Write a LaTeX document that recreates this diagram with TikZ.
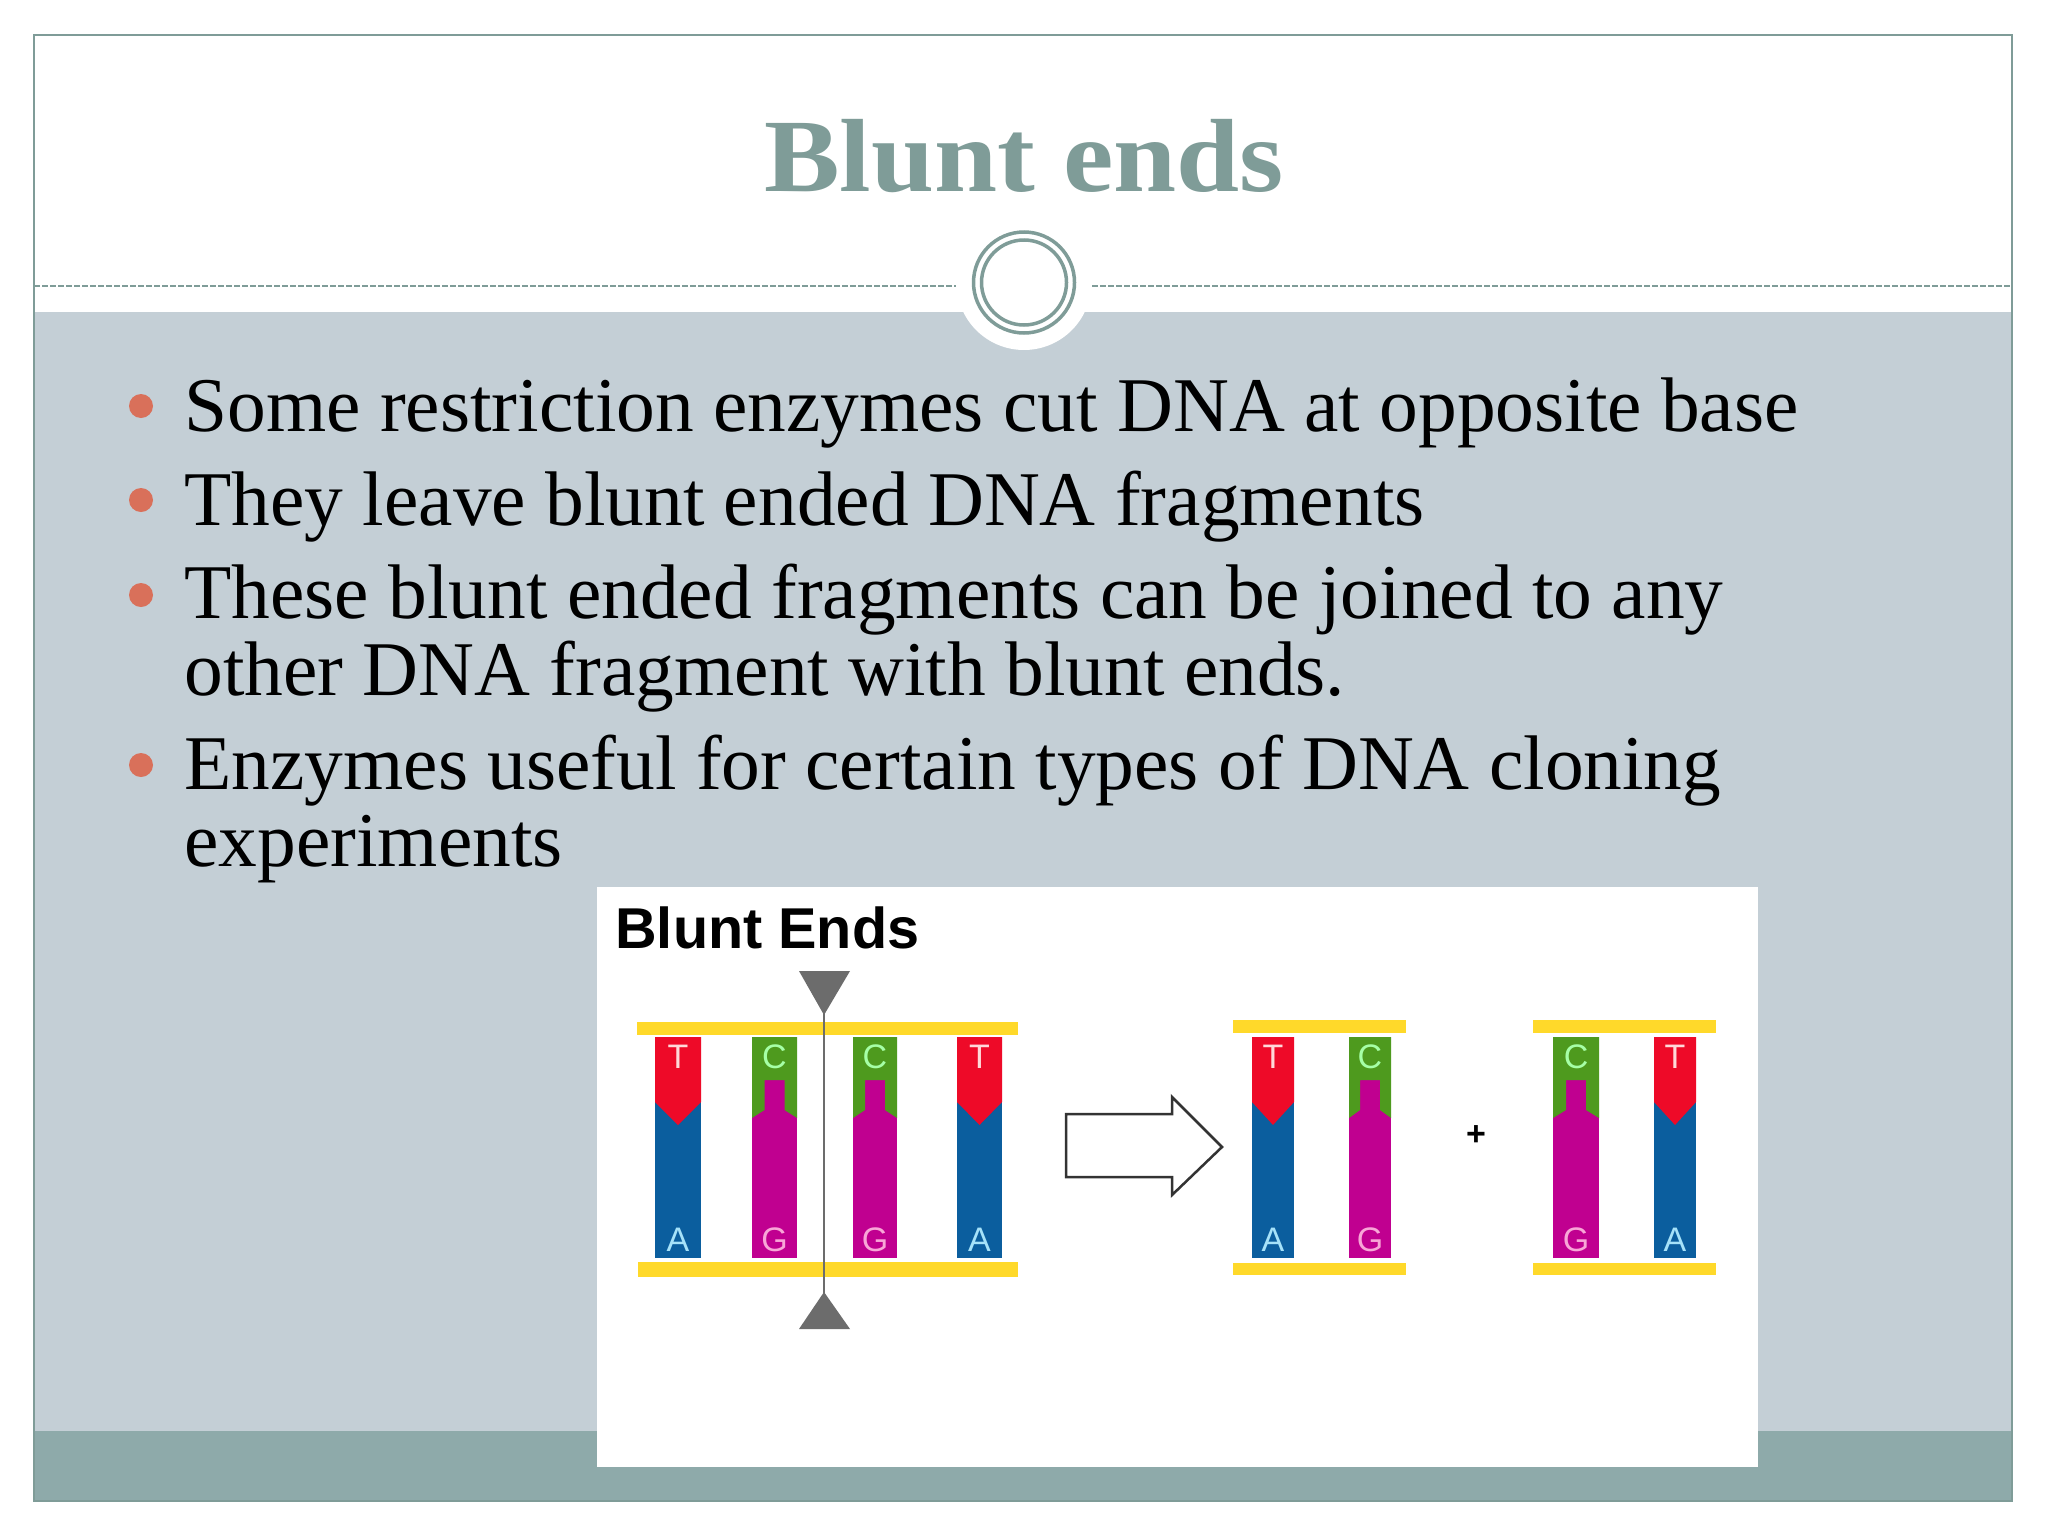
\documentclass[tikz,border=0pt]{standalone}
\usepackage{fontspec}
\setmainfont{Liberation Serif}
\newfontfamily\labelfont{Liberation Sans}
\newfontfamily\titlefont[FakeStretch=1.09]{Liberation Serif}
\usetikzlibrary{shapes}
\definecolor{slidegray}{HTML}{C4CFD6}
\definecolor{bandgreen}{HTML}{8EAAAA}
\definecolor{framegreen}{HTML}{7F9C98}
\definecolor{bulletred}{HTML}{D9705A}
\definecolor{basered}{HTML}{EE0A28}
\definecolor{baseblue}{HTML}{0B5E9E}
\definecolor{basegreen}{HTML}{4E9A1E}
\definecolor{basepink}{HTML}{C00090}
\definecolor{strandyellow}{HTML}{FFD92A}
% T-A pair: left x, right x, name
\newcommand{\tapair}[3]{
	\fill[baseblue] (#1,1037) rectangle (#2,1258);
	\fill[basered] (#1,1037) -- (#2,1037) -- (#2,1102) -- ({(#1+#2)/2},1125) -- (#1,1102) -- cycle;
	\node[baseletter,text=red!15!white] (#3t) at ({(#1+#2)/2},1057) {T};
	\node[baseletter,text=cyan!35!white] (#3a) at ({(#1+#2)/2},1240) {A};
}
% C-G pair: left x, right x, name
\newcommand{\cgpair}[3]{
	\fill[basepink] (#1,1037) rectangle (#2,1258);
	\fill[basegreen] (#1,1037) -- (#2,1037) -- (#2,1118) -- ({(#1+#2)/2+10},1110) -- ({(#1+#2)/2+10},1080) -- ({(#1+#2)/2-10},1080) -- ({(#1+#2)/2-10},1110) -- (#1,1118) -- cycle;
	\node[baseletter,text=green!35!white] (#3c) at ({(#1+#2)/2},1057) {C};
	\node[baseletter,text=magenta!35!white] (#3g) at ({(#1+#2)/2},1240) {G};
}

\begin{document}
\begin{tikzpicture}[x=0.5pt,y=-0.5pt]
	\tikzset{bullet/.style={circle,fill=bulletred,inner sep=0pt,minimum size=12pt}}
	\tikzset{bodytext/.style={anchor=base west,inner sep=0pt,align=left,font=\fontsize{38.7}{38.5}\selectfont}}
	\tikzset{baseletter/.style={inner sep=0pt,font=\labelfont\fontsize{17}{17}\selectfont}}
	\tikzset{strand/.style={fill=strandyellow}}
	\tikzset{ring/.style={draw=framegreen,line width=1.75pt}}
	\useasboundingbox (0,0) rectangle (2048,1536);
	\fill[white] (0,0) rectangle (2048,1536);
	\fill[slidegray] (34,312) rectangle (2012,1431);
	\fill[bandgreen] (34,1431) rectangle (2012,1501);
	\draw[framegreen,line width=1pt] (34,35) rectangle (2012,1501);
	\draw[framegreen,line width=0.75pt,dash pattern=on 3pt off 1pt] (34,286) -- (956,286);
	\draw[framegreen,line width=0.75pt,dash pattern=on 3pt off 1pt] (1092,286) -- (2012,286);
	\fill[white] (1024,282.5) circle (67.5);
	\draw[ring] (1024,282.5) circle (50.5);
	\draw[ring] (1024,282.5) circle (42.5);
	\node[anchor=base,inner sep=0pt,text=framegreen,font=\titlefont\bfseries\fontsize{52}{52}\selectfont] (title) at (1024,191) {Blunt ends};
	\node[bullet] (b1) at (141,406) {};
	\node[bullet] (b2) at (141,500) {};
	\node[bullet] (b3) at (141,595) {};
	\node[bullet] (b4) at (141,765) {};
	\node[bodytext] (t1) at (184,431) {Some restriction enzymes cut DNA at opposite base};
	\node[bodytext] (t2) at (184,525) {They leave blunt ended DNA fragments};
	\node[bodytext] (t3) at (184,695) {These blunt ended fragments can be joined to any\\other DNA fragment with blunt ends.};
	\node[bodytext] (t4) at (184,866) {Enzymes useful for certain types of DNA cloning\\experiments};
	% figure panel
	\fill[white] (597,887) rectangle (1758,1467);
	\node[anchor=base west,inner sep=0pt,font=\labelfont\bfseries\fontsize{28.8}{28.8}\selectfont] (figtitle) at (615,948) {Blunt Ends};
	\fill[strand] (637,1022) rectangle (1018,1035);
	\fill[strand] (638,1262) rectangle (1018,1277);
	\tapair{655}{701}{p}
	\cgpair{752}{797}{q}
	\cgpair{853}{897}{r}
	\tapair{957}{1002}{s}
	\fill[gray!85!black] (799,971) -- (850,971) -- (824,1015) -- cycle;
	\fill[gray!85!black] (799,1329) -- (850,1329) -- (824,1292) -- cycle;
	\draw[gray!85!black,line width=1pt] (824,1013) -- (824,1293);
	\draw[black!80,line width=1.25pt,fill=white] (1066,1114) -- (1172,1114) -- (1172,1097) -- (1222,1147) -- (1172,1195) -- (1172,1177) -- (1066,1177) -- cycle;
	\fill[strand] (1233,1020) rectangle (1406,1033);
	\fill[strand] (1233,1263) rectangle (1406,1275);
	\tapair{1252}{1294}{u}
	\cgpair{1349}{1391}{v}
	\node[inner sep=0pt,font=\labelfont\bfseries\fontsize{17}{17}\selectfont] (plus) at (1476,1136) {+};
	\fill[strand] (1533,1020) rectangle (1716,1033);
	\fill[strand] (1533,1263) rectangle (1716,1275);
	\cgpair{1553}{1599}{w}
	\tapair{1654}{1696}{z}
\end{tikzpicture}
\end{document}
